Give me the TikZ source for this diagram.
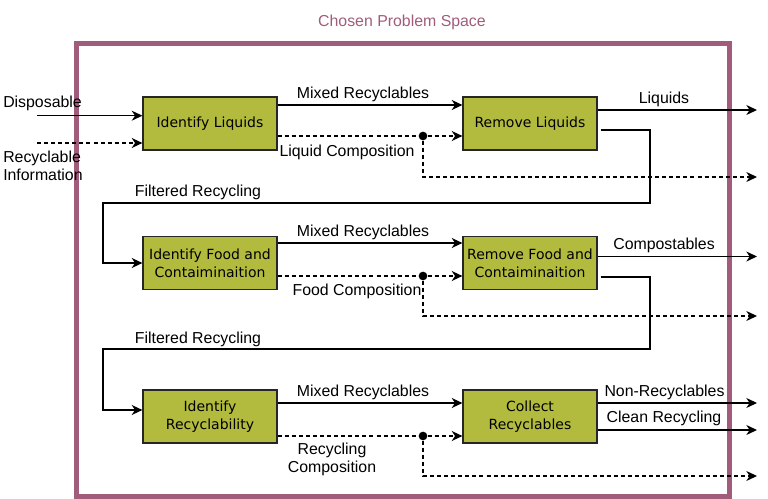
\documentclass[tikz,border=0pt]{standalone}
\usepackage{fontspec}
\setmainfont{Liberation Sans}
\newfontfamily\boxfont{DejaVu Sans}
\usetikzlibrary{arrows.meta, positioning, calc}
\definecolor{frameMauve}{RGB}{160,92,122}
\definecolor{boxOlive}{RGB}{178,187,62}

\begin{document}
\begin{tikzpicture}[x=0.75pt, y=-0.75pt,
    block/.style={rectangle, draw=black!85, line width=0.9pt, fill=boxOlive, minimum width=100.5pt, minimum height=39.75pt, align=center, inner sep=1pt, font=\boxfont\fontsize{10.5}{13.3}\selectfont},
    lbl/.style={inner sep=0pt, align=center, font=\fontsize{11.9}{13.5}\selectfont},
    dot/.style={circle, fill=black, inner sep=0pt, minimum size=6.5pt},
    line/.style={draw, line width=0.9pt, -{Stealth[length=8pt, width=7.5pt, inset=2.5pt]}},
    dline/.style={line, dash pattern=on 3pt off 2.3pt},
    dplain/.style={draw, line width=0.9pt, dash pattern=on 3pt off 2.3pt}]
    \useasboundingbox (0,0) rectangle (768,499);

    % frame
    \draw [frameMauve, line width=3.75pt] (76.5,44) rectangle (729.5,496);
    \node [lbl, text=frameMauve] (title) at (402,22) {Chosen Problem Space};

    % process blocks
    \node [block] (idliq) at (210,123.5) {Identify Liquids};
    \node [block] (rmliq) at (530,123.5) {Remove Liquids};
    \node [block] (idfood) at (210,263) {Identify Food and\\Contaiminaition};
    \node [block] (rmfood) at (530,263) {Remove Food and\\Contaiminaition};
    \node [block] (idrec) at (210,416.5) {Identify\\Recyclability};
    \node [block] (collect) at (530,416.5) {Collect\\Recyclables};

    % free ends
    \coordinate (inDisp) at (37,115.7);
    \coordinate (inInfo) at (37,143);
    \coordinate (outLiq) at (757,110);
    \coordinate (outLiqInfo) at (757,177);
    \coordinate (outComp) at (757,256.5);
    \coordinate (outFoodInfo) at (757,316);
    \coordinate (outNonRec) at (757,403);
    \coordinate (outClean) at (757,430);
    \coordinate (outRecInfo) at (757,476);

    % junction dots
    \node [dot] (jLiq) at (423,136) {};
    \node [dot] (jFood) at (423,276) {};
    \node [dot] (jRec) at (423,436) {};

    % inputs
    \node [lbl, anchor=west] (disp) at (3,103) {Disposable};
    \node [lbl, anchor=west, align=left] (info) at (3,165.5) {Recyclable\\Information};
    \path [line] (inDisp) -- (idliq.west |- inDisp);
    \path [dline] (inInfo) -- (idliq.west |- inInfo);

    % row 1
    \path [line] (idliq.east |- 0,105) -- (rmliq.west |- 0,105);
    \node [lbl] (mix1) at (363,94) {Mixed Recyclables};
    \path [dplain] (idliq.east |- jLiq) -- (jLiq);
    \path [dline] (jLiq) -- (rmliq.west |- jLiq);
    \path [dline] (jLiq) |- (outLiqInfo);
    \node [lbl] (liqcomp) at (347,152) {Liquid Composition};
    \path [line] (rmliq.east |- outLiq) -- (outLiq);
    \node [lbl] (liq) at (664,99) {Liquids};
    \path [line] ($(rmliq.east)+(3,6.5)$) -| (650,203) -| (103,263) -- (idfood.west);
    \node [lbl] (filt1) at (198,192) {Filtered Recycling};

    % row 2
    \path [line] (idfood.east |- 0,243) -- (rmfood.west |- 0,243);
    \node [lbl] (mix2) at (363,232) {Mixed Recyclables};
    \path [dplain] (idfood.east |- jFood) -- (jFood);
    \path [dline] (jFood) -- (rmfood.west |- jFood);
    \path [dline] (jFood) |- (outFoodInfo);
    \node [lbl] (foodcomp) at (357,291) {Food Composition};
    \path [line] (rmfood.east |- outComp) -- (outComp);
    \node [lbl] (comp) at (664,245) {Compostables};
    \path [line] ($(rmfood.east)+(3,14)$) -| (650,349) -| (103,410) -- (idrec.west |- 0,410);
    \node [lbl] (filt2) at (198,339) {Filtered Recycling};

    % row 3
    \path [line] (idrec.east |- 0,403) -- (collect.west |- 0,403);
    \node [lbl] (mix3) at (363,392) {Mixed Recyclables};
    \path [dplain] (idrec.east |- jRec) -- (jRec);
    \path [dline] (jRec) -- (collect.west |- jRec);
    \path [dline] (jRec) |- (outRecInfo);
    \node [lbl] (reccomp) at (332,459) {Recycling\\Composition};
    \path [line] (collect.east |- outNonRec) -- (outNonRec);
    \node [lbl] (nonrec) at (664.5,392) {Non-Recyclables};
    \path [line] (collect.east |- outClean) -- (outClean);
    \node [lbl] (clean) at (664,418) {Clean Recycling};
\end{tikzpicture}
\end{document}
